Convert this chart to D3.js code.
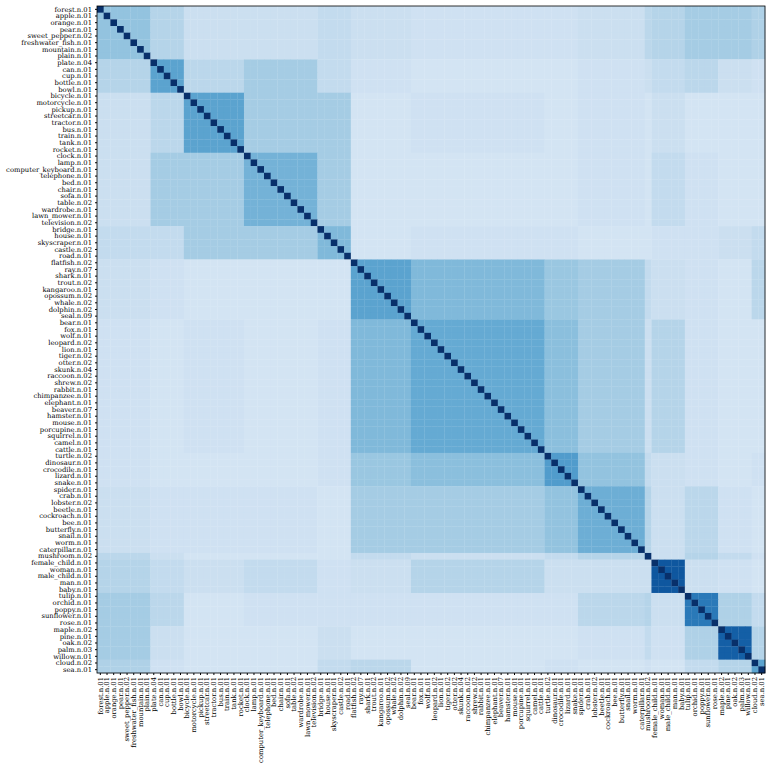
<!DOCTYPE html><html><head><meta charset="utf-8">
<script src="https://cdn.jsdelivr.net/npm/d3@7"></script>
<style>body{margin:0;background:#fff}</style></head><body>
<svg id="c" width="772" height="772"></svg>
<script>
const labels=["forest.n.01","apple.n.01","orange.n.01","pear.n.01","sweet_pepper.n.02","freshwater_fish.n.01","mountain.n.01","plain.n.01","plate.n.04","can.n.01","cup.n.01","bottle.n.01","bowl.n.01","bicycle.n.01","motorcycle.n.01","pickup.n.01","streetcar.n.01","tractor.n.01","bus.n.01","train.n.01","tank.n.01","rocket.n.01","clock.n.01","lamp.n.01","computer_keyboard.n.01","telephone.n.01","bed.n.01","chair.n.01","sofa.n.01","table.n.02","wardrobe.n.01","lawn_mower.n.01","television.n.02","bridge.n.01","house.n.01","skyscraper.n.01","castle.n.02","road.n.01","flatfish.n.02","ray.n.07","shark.n.01","trout.n.02","kangaroo.n.01","opossum.n.02","whale.n.02","dolphin.n.02","seal.n.09","bear.n.01","fox.n.01","wolf.n.01","leopard.n.02","lion.n.01","tiger.n.02","otter.n.02","skunk.n.04","raccoon.n.02","shrew.n.02","rabbit.n.01","chimpanzee.n.01","elephant.n.01","beaver.n.07","hamster.n.01","mouse.n.01","porcupine.n.01","squirrel.n.01","camel.n.01","cattle.n.01","turtle.n.02","dinosaur.n.01","crocodile.n.01","lizard.n.01","snake.n.01","spider.n.01","crab.n.01","lobster.n.02","beetle.n.01","cockroach.n.01","bee.n.01","butterfly.n.01","snail.n.01","worm.n.01","caterpillar.n.01","mushroom.n.02","female_child.n.01","woman.n.01","male_child.n.01","man.n.01","baby.n.01","tulip.n.01","orchid.n.01","poppy.n.01","sunflower.n.01","rose.n.01","maple.n.02","pine.n.01","oak.n.02","palm.n.03","willow.n.01","cloud.n.02","sea.n.01"];
// group of each label (read from block structure)
const groupOf="AAAAAAAABBBBBCCCCCCCCCDDDDDDDDDDDEEEEEFFFFFFFFFGGGGGGGGGGGGGGGGGGGGHHHHHIIIIIIIIIIJKKKKKLLLLLMMMMMNN";
const groupNames="ABCDEFGHIJKLMN";
// group x group similarity (estimated block shading)
const blockSim=[
//A    B    C    D    E    F    G    H    I    J    K    L    M    N
[.40,.30,.22,.22,.25,.22,.20,.20,.22,.28,.30,.35,.35,.32],
[.30,.55,.28,.35,.25,.20,.18,.18,.20,.22,.25,.28,.22,.20],
[.22,.28,.55,.35,.35,.18,.20,.18,.20,.18,.22,.18,.18,.18],
[.22,.35,.35,.48,.35,.18,.18,.18,.20,.18,.25,.20,.18,.18],
[.25,.25,.35,.35,.45,.18,.20,.20,.18,.18,.20,.20,.22,.25],
[.22,.20,.18,.18,.18,.55,.45,.38,.35,.25,.22,.20,.18,.28],
[.20,.18,.20,.18,.20,.45,.52,.42,.35,.22,.30,.20,.18,.18],
[.20,.18,.18,.18,.20,.38,.42,.58,.40,.25,.22,.20,.18,.20],
[.22,.20,.20,.20,.18,.35,.35,.40,.50,.30,.22,.28,.20,.18],
[.28,.22,.18,.18,.18,.25,.22,.25,.30,1,.22,.30,.25,.20],
[.30,.25,.22,.25,.20,.22,.30,.22,.22,.22,.85,.22,.20,.18],
[.35,.28,.18,.20,.20,.20,.20,.20,.28,.30,.22,.72,.32,.25],
[.35,.22,.18,.18,.22,.18,.18,.18,.20,.25,.20,.32,.82,.30],
[.32,.20,.18,.18,.25,.28,.18,.20,.18,.20,.18,.25,.30,.55]];
const L=97,T=6,W=668,H=667;
const svg=d3.select("#c");
const x=d3.scaleBand().domain(labels).range([L,L+W]);
const y=d3.scaleBand().domain(labels).range([T,T+H]);
const color=d3.scaleSequential(d3.interpolateBlues).domain([0.0,1]);
const cells=[];
labels.forEach((a,i)=>labels.forEach((b,j)=>{
  const v=i===j?1:blockSim[groupNames.indexOf(groupOf[i])][groupNames.indexOf(groupOf[j])];
  cells.push({a,b,v});
}));
svg.append("g").selectAll("rect").data(cells).join("rect")
 .attr("x",d=>x(d.b)).attr("y",d=>y(d.a)).attr("width",x.bandwidth()+0.3).attr("height",y.bandwidth()+0.3)
 .attr("fill",d=>color(d.v));
svg.append("rect").attr("x",L).attr("y",T).attr("width",W).attr("height",H).attr("fill","none").attr("stroke","#000").attr("stroke-width",0.8);
const ax=svg.append("g").attr("transform",`translate(${L},0)`).call(d3.axisLeft(y).tickSize(2));
ax.select(".domain").remove();
ax.selectAll("text").attr("font-family","DejaVu Serif").attr("font-size",6.8).attr("fill","#000");
const bx=svg.append("g").attr("transform",`translate(0,${T+H})`).call(d3.axisBottom(x).tickSize(2));
bx.select(".domain").remove();
bx.selectAll("text").attr("font-family","DejaVu Serif").attr("font-size",6.8).attr("fill","#000")
 .attr("transform","rotate(-90)").attr("text-anchor","end").attr("x",-4).attr("y",0).attr("dy","0.32em");
</script></body></html>
